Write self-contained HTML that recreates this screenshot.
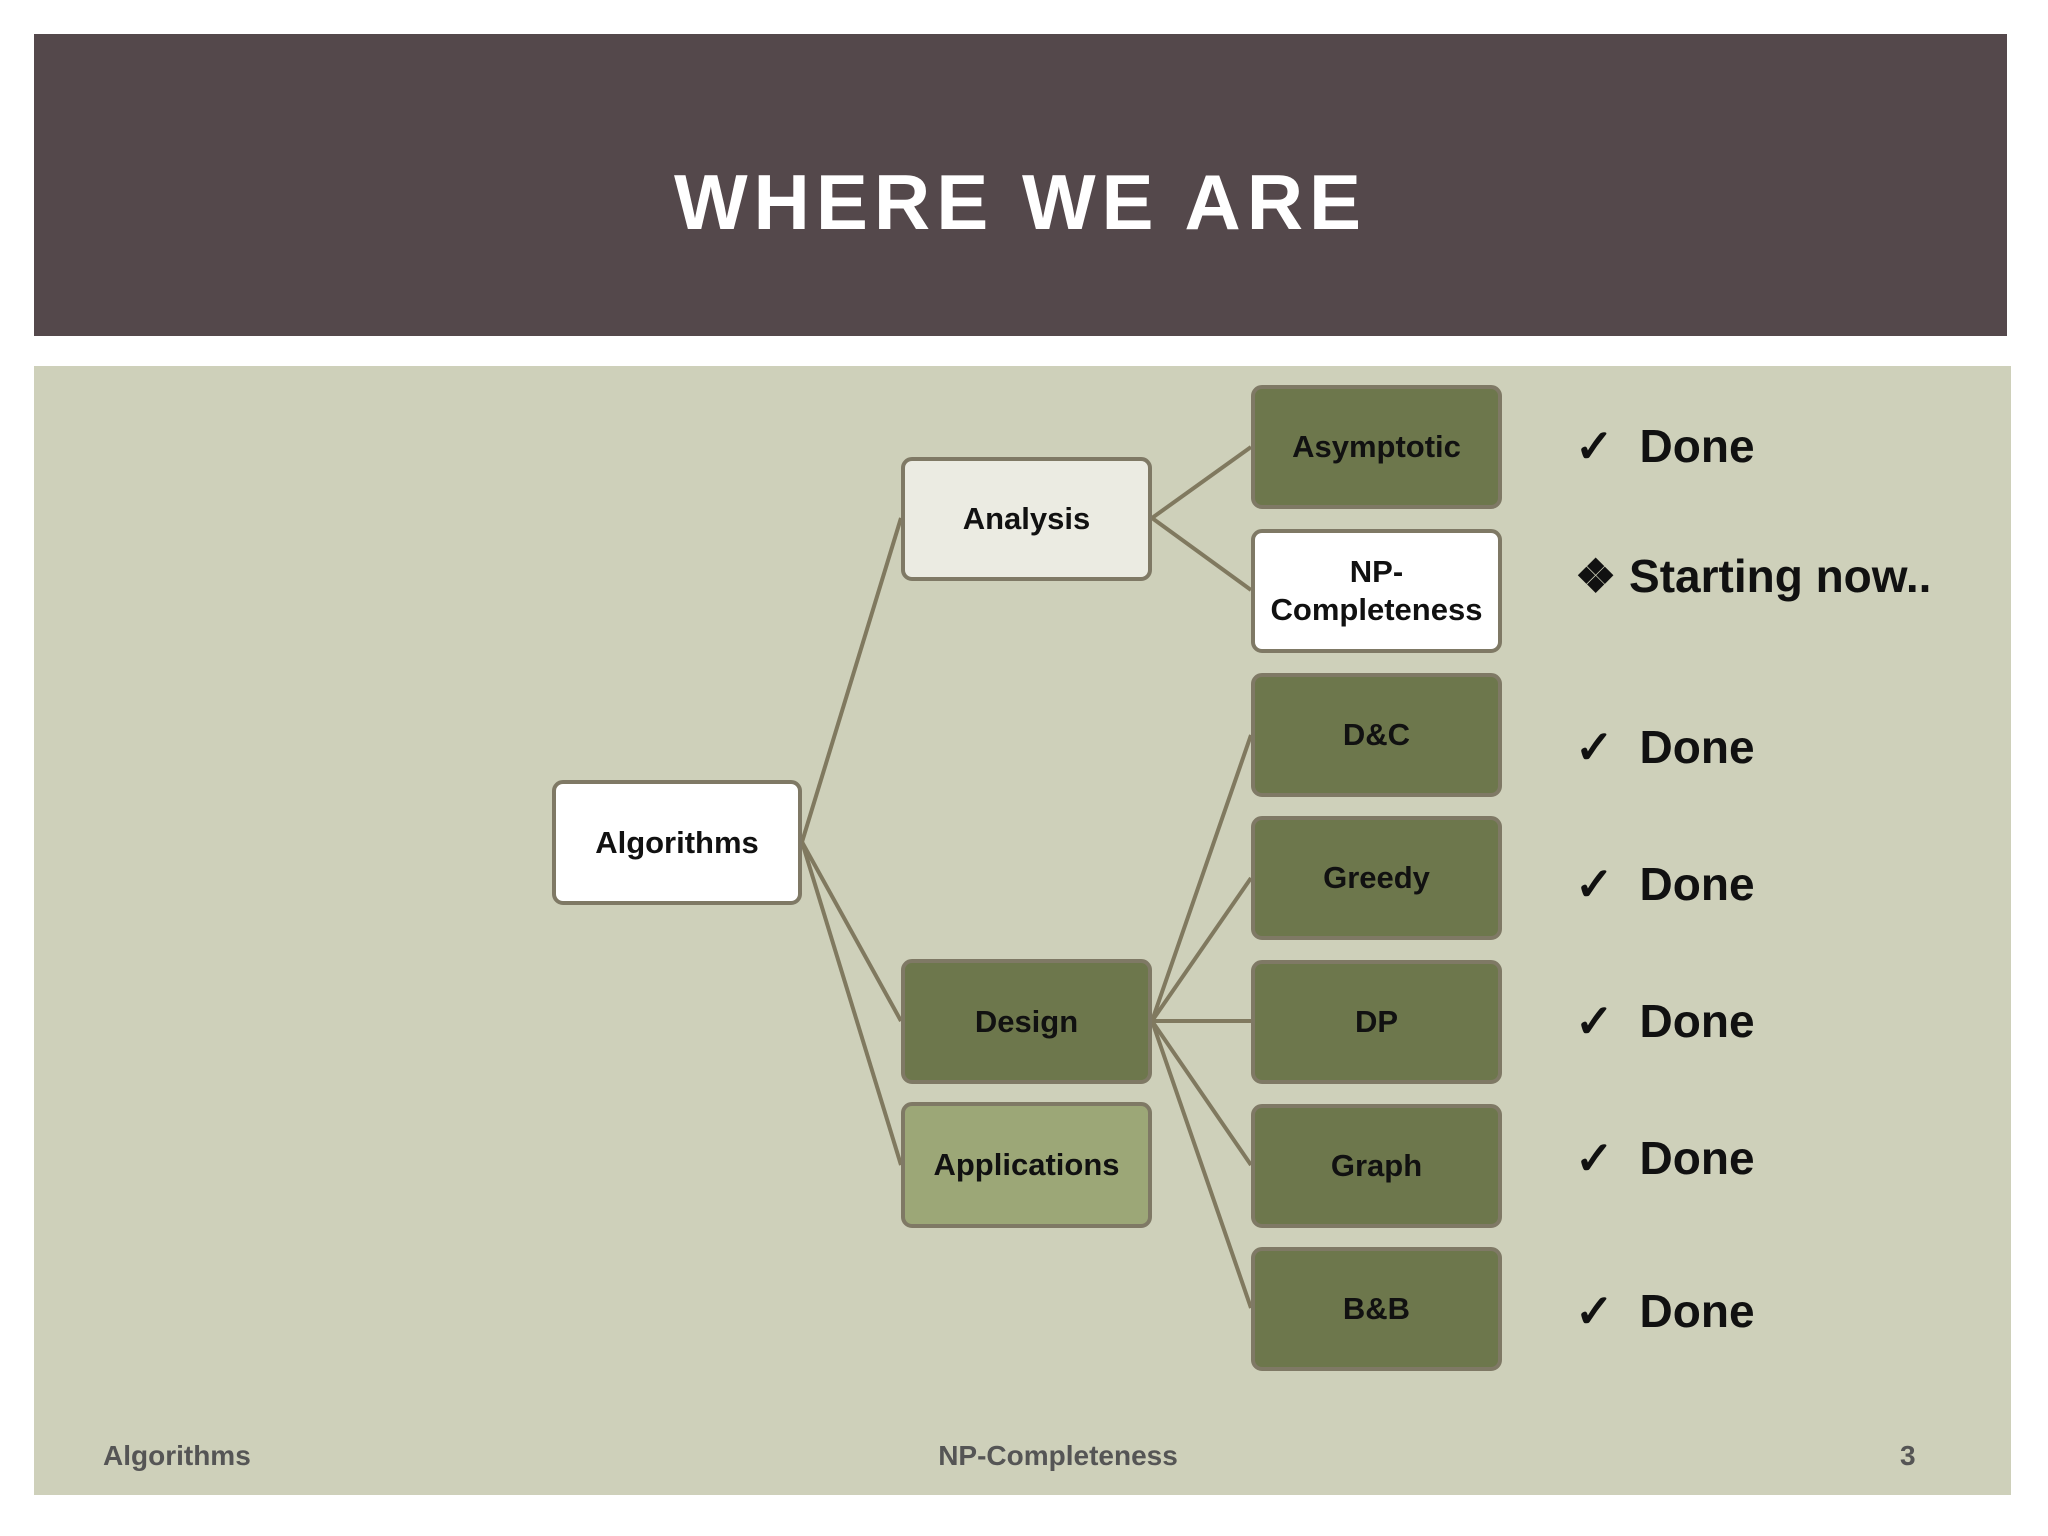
<!DOCTYPE html>
<html><head><meta charset="utf-8"><style>
html,body{margin:0;padding:0;width:2048px;height:1536px;background:#fff;overflow:hidden;font-family:"Liberation Sans",sans-serif}
.hdr{position:absolute;left:34px;top:34px;width:1973px;height:302px;background:#54484b}
.hdr div{position:absolute;left:0;right:0;top:168px;text-align:center;color:#fff;font-size:78px;font-weight:bold;letter-spacing:6px;line-height:100px;margin-top:-50px}
.body{position:absolute;left:34px;top:366px;width:1977px;height:1129px;background:#ced0ba}
.b{position:absolute;box-sizing:border-box;border:4px solid #7f7965;border-radius:11px;display:flex;align-items:center;justify-content:center;text-align:center;font-weight:bold;font-size:31px;color:#111;line-height:38px}
.d{background:#6d774c}
.lab{position:absolute;font-size:46px;font-weight:bold;color:#111;line-height:56px}
.ft{position:absolute;top:1440px;font-size:28px;color:#555;font-weight:bold;line-height:32px}
.s{display:inline-block;width:26px}
</style></head><body>
<div class="hdr"><div>WHERE WE ARE</div></div>
<div class="body"></div>
<svg style="position:absolute;left:0;top:0" width="2048" height="1536">
<g stroke="#80795f" stroke-width="4" fill="none">
<line x1="802" y1="842" x2="901" y2="518"/>
<line x1="802" y1="842" x2="901" y2="1021"/>
<line x1="802" y1="842" x2="901" y2="1165"/>
<line x1="1152" y1="518" x2="1251" y2="447"/>
<line x1="1152" y1="518" x2="1251" y2="590"/>
<line x1="1152" y1="1021" x2="1251" y2="735"/>
<line x1="1152" y1="1021" x2="1251" y2="878"/>
<line x1="1152" y1="1021" x2="1251" y2="1021"/>
<line x1="1152" y1="1021" x2="1251" y2="1165"/>
<line x1="1152" y1="1021" x2="1251" y2="1308"/>
</g></svg>
<div class="b" style="left:552px;top:780px;width:250px;height:125px;background:#fff">Algorithms</div>
<div class="b" style="left:901px;top:457px;width:251px;height:124px;background:#ebebe2">Analysis</div>
<div class="b d" style="left:901px;top:959px;width:251px;height:125px">Design</div>
<div class="b" style="left:901px;top:1102px;width:251px;height:126px;background:#9ca777">Applications</div>
<div class="b d" style="left:1251px;top:385px;width:251px;height:124px">Asymptotic</div>
<div class="b" style="left:1251px;top:529px;width:251px;height:124px;background:#fff">NP-<br>Completeness</div>
<div class="b d" style="left:1251px;top:673px;width:251px;height:124px">D&amp;C</div>
<div class="b d" style="left:1251px;top:816px;width:251px;height:124px">Greedy</div>
<div class="b d" style="left:1251px;top:960px;width:251px;height:124px">DP</div>
<div class="b d" style="left:1251px;top:1104px;width:251px;height:124px">Graph</div>
<div class="b d" style="left:1251px;top:1247px;width:251px;height:124px">B&amp;B</div>
<div class="lab" style="left:1575px;top:418px">✓<span class="s"></span>Done</div>
<div class="lab" style="left:1575px;top:548px">❖ Starting now..</div>
<div class="lab" style="left:1575px;top:719px">✓<span class="s"></span>Done</div>
<div class="lab" style="left:1575px;top:856px">✓<span class="s"></span>Done</div>
<div class="lab" style="left:1575px;top:993px">✓<span class="s"></span>Done</div>
<div class="lab" style="left:1575px;top:1130px">✓<span class="s"></span>Done</div>
<div class="lab" style="left:1575px;top:1283px">✓<span class="s"></span>Done</div>
<div class="ft" style="left:103px">Algorithms</div>
<div class="ft" style="left:858px;width:400px;text-align:center">NP-Completeness</div>
<div class="ft" style="left:1900px">3</div>
</body></html>
